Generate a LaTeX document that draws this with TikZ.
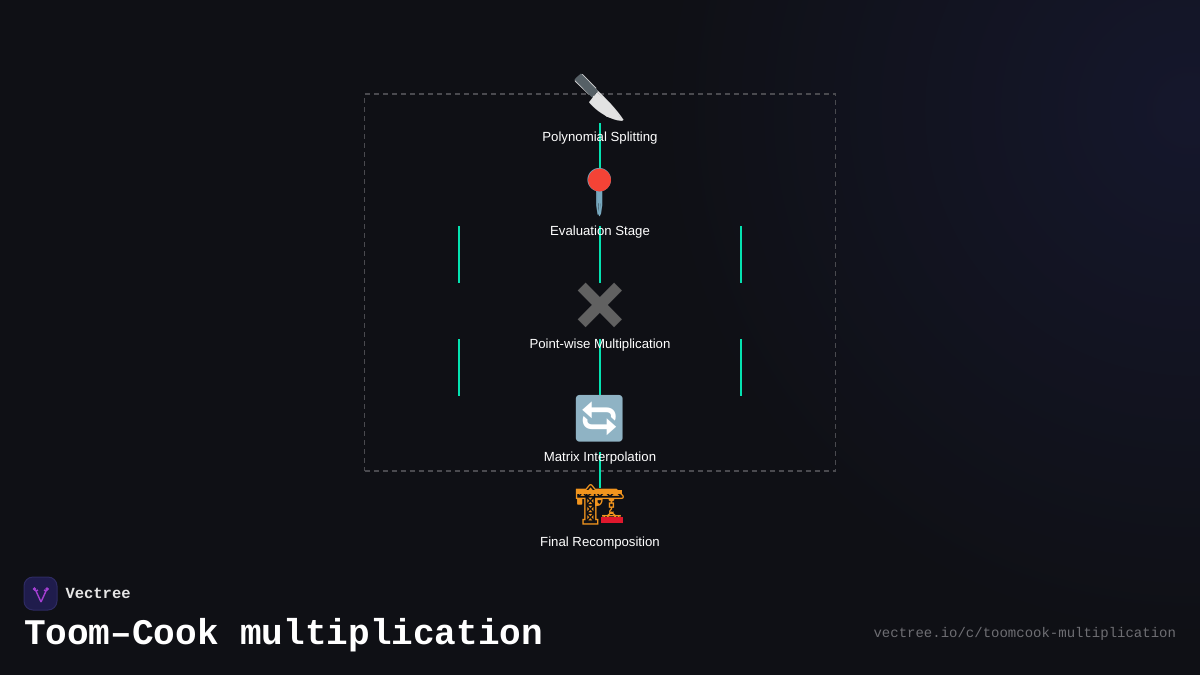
\documentclass[tikz,border=0pt]{standalone}
\usepackage{fontspec}
\setmainfont{Liberation Sans}
\setmonofont{Liberation Mono}
\newfontfamily\emojifont{Noto Emoji}
\usepackage{xcolor}
\usetikzlibrary{positioning}
\definecolor{bgdark}{HTML}{0F1015}
\definecolor{bgnavy}{HTML}{15172C}
\definecolor{linkgreen}{HTML}{04E2B0}
\definecolor{boxgrey}{HTML}{4A4A4F}
\definecolor{urlgrey}{HTML}{6E6E73}
\definecolor{logofill}{HTML}{1F1C4C}
\definecolor{logoedge}{HTML}{2E2B62}
\definecolor{logomark}{HTML}{A43FD2}
\definecolor{bladegrey}{HTML}{E2E2E2}
\definecolor{handlegrey}{HTML}{566066}
\definecolor{pinred}{HTML}{F44336}
\definecolor{pinsteel}{HTML}{78A9BF}
\definecolor{crossgrey}{HTML}{616161}
\definecolor{swapblue}{HTML}{8FB3C4}
\definecolor{craneorange}{HTML}{F2951E}
\definecolor{loadred}{HTML}{E0182D}
\pgfdeclarelayer{linklayer}
\pgfdeclarelayer{backlayer}
\pgfsetlayers{backlayer,linklayer,main}

\begin{document}
\begin{tikzpicture}[x=1pt, y=-1pt, node distance=0pt,
    every node/.style={inner sep=0pt, outer sep=0pt},
    stage/.style={text=white, font=\fontsize{13.2}{16}\selectfont},
    glyph/.style={font=\emojifont\fontsize{46}{46}\selectfont},
    link/.style={linkgreen, line width=2pt}]
    \useasboundingbox (0,0) rectangle (1200,675);
    \begin{pgfonlayer}{backlayer}
        \fill[bgdark] (0,0) rectangle (1200,675);
        \clip (0,0) rectangle (1200,675);
        \shade[inner color=bgnavy, outer color=bgdark] (1190,110) circle (530);
    \end{pgfonlayer}

    % stages
    \fill[bladegrey] (596.7,92.3) -- (610,103.3) -- (622.7,121) -- (606.7,116.7) -- (590,102.7) -- cycle;
    \node[glyph, text=bladegrey] (knife) at (600,98) {\symbol{"1F52A}};
    \fill[handlegrey] (574.5,79.5) -- (581,73.5) -- (598,91) -- (592,97.5) -- cycle;
    \node[stage, below=40pt of knife.center, anchor=center] (split) {Polynomial Splitting};

    \node[glyph, text=pinsteel] (pin) at (600,192) {\symbol{"1F4CD}};
    \fill[pinsteel] (597.5,190.5) -- (601.5,190.5) -- (600,216) -- (599,216) -- cycle;
    \fill[pinred] (599.5,180) circle (11.5);
    \node[stage, below=40pt of pin.center, anchor=center] (eval) {Evaluation Stage};

    \node[glyph, text=crossgrey, font=\emojifont\fontsize{47}{47}\selectfont] (cross) at (600,305.5) {\symbol{"2716}};
    \node[stage, below=39.5pt of cross.center, anchor=center] (mult) {Point-wise Multiplication};

    \fill[white] (581,399) rectangle (618,437);
    \node[glyph, text=swapblue] (swap) at (600,418.5) {\symbol{"1F504}};
    \node[stage, below=39.5pt of swap.center, anchor=center] (interp) {Matrix Interpolation};

    \node[glyph, text=craneorange, font=\emojifont\fontsize{40}{40}\selectfont] (crane) at (600,505) {\symbol{"1F3D7}};
    \fill[craneorange] (576,490) rectangle (622,494);
    \fill[loadred] (601,517) rectangle (623,523);
    \node[stage, below=38pt of crane.center, anchor=center] (recomp) {Final Recomposition};

    \coordinate (lefta) at (459,226);
    \coordinate (leftb) at (459,282.5);
    \coordinate (leftc) at (459,339);
    \coordinate (leftd) at (459,395.5);
    \coordinate (righta) at (741,226);
    \coordinate (rightb) at (741,282.5);
    \coordinate (rightc) at (741,339);
    \coordinate (rightd) at (741,395.5);

    \begin{pgfonlayer}{linklayer}
        \node[draw=boxgrey, line width=1.5pt, dash pattern=on 5pt off 4pt, minimum width=471pt, minimum height=377pt] (group) at (600,282.5) {};
        \draw[link] (split.center |- 0,123) -- (pin.center |- 0,169);
        \draw[link] (eval.center |- 0,226) -- (cross.center |- 0,282.5);
        \draw[link] (mult.center |- 0,339) -- (swap.center |- 0,395.5);
        \draw[link] (interp.center |- 0,452) -- (crane.center |- 0,488);
        \draw[link] (lefta) -- (leftb);
        \draw[link] (leftc) -- (leftd);
        \draw[link] (righta) -- (rightb);
        \draw[link] (rightc) -- (rightd);
    \end{pgfonlayer}

    % footer
    \node[draw=logoedge, fill=logofill, rounded corners=9pt, line width=1pt, minimum size=33pt] (logo) at (40.5,593.5) {};
    \draw[logomark, line width=1.4pt] (41,602) -- (36,591) -- (33.5,588.5) (36,591) -- (38,590) (41,602) -- (46,591) -- (48.5,588.5) (46,591) -- (44,590);
    \fill[logomark] (34.5,589) circle (1.8) (47,589) circle (1.8);
    \node[right=8.5pt of logo.east, anchor=west, text=white!90!black, font=\ttfamily\bfseries\fontsize{15.5}{18}\selectfont] (brand) {Vectree};
    \node[anchor=base west, text=white, font=\ttfamily\bfseries\fontsize{36.05}{40}\selectfont] (title) at (24,644) {Toom–Cook multiplication};
    \node[anchor=base east, text=urlgrey, font=\ttfamily\fontsize{14}{16}\selectfont] (url) at (1176,637) {vectree.io/c/toomcook-multiplication};
\end{tikzpicture}
\end{document}
